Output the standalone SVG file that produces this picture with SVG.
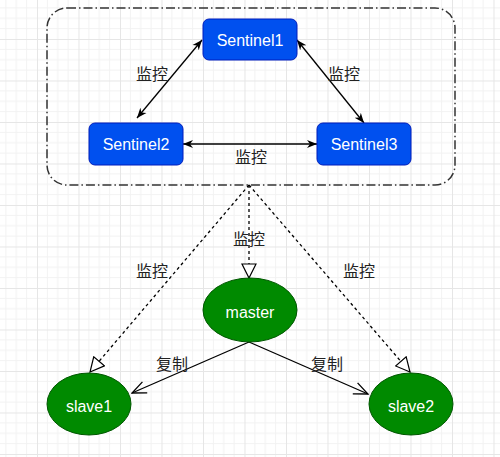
<svg xmlns="http://www.w3.org/2000/svg" width="500" height="457" viewBox="0 0 500 457">
<defs>
<pattern id="grid" patternUnits="userSpaceOnUse" x="-4.5" y="-2.5" width="41.5" height="41.5">
<path d="M10.375 0V41.5M20.75 0V41.5M31.125 0V41.5M0 10.375H41.5M0 20.75H41.5M0 31.125H41.5" stroke="#f2f2f2" stroke-width="1" fill="none"/>
<path d="M0.5 0V41.5M0 0.5H41.5" stroke="#e6e6e6" stroke-width="1" fill="none"/>
</pattern>
<marker id="classic" viewBox="0 0 10 10" refX="10" refY="5" markerWidth="10" markerHeight="10" markerUnits="userSpaceOnUse" orient="auto-start-reverse">
<path d="M0,1 L10,5 L0,9 L3,5 z" fill="#000"/>
</marker>
<marker id="block" viewBox="-1 -1 16 16" refX="14" refY="7" markerWidth="16" markerHeight="16" markerUnits="userSpaceOnUse" orient="auto">
<path d="M0,0 L14,7 L0,14 z" fill="#fff" stroke="#000" stroke-width="1.2"/>
</marker>
<marker id="open" viewBox="-1 -1 16 14" refX="14" refY="6" markerWidth="16" markerHeight="14" markerUnits="userSpaceOnUse" orient="auto">
<path d="M0,0 L14,6 L0,12" fill="none" stroke="#000" stroke-width="1.3"/>
</marker>
</defs>
<style>
.lbl{font-family:"Liberation Sans","Noto Sans CJK SC",sans-serif;font-size:16px;fill:#222;text-anchor:middle;dominant-baseline:central}
.ntxt{font-family:"Liberation Sans",Arial,sans-serif;font-size:16px;fill:#fff;text-anchor:middle;dominant-baseline:central}
.sent{fill:#0050ef;stroke:#001dbc;stroke-width:1}
.redis{fill:#008a00;stroke:#005700;stroke-width:1}
.solid{stroke:#000;stroke-width:1.3;fill:none}
.dot{stroke:#000;stroke-width:1.3;fill:none;stroke-dasharray:3 3}
</style>
<rect width="500" height="457" fill="#fff"/>
<rect width="500" height="457" fill="url(#grid)"/>
<g id="sentinel-group">
<rect x="47" y="8" width="408" height="177" rx="20" fill="none" stroke="#333" stroke-width="1.5" stroke-dasharray="9 3 1.5 3"/>
</g>
<g id="connectors">
<line class="solid" x1="202" y1="40" x2="137" y2="118" marker-start="url(#classic)" marker-end="url(#classic)"/>
<line class="solid" x1="297" y1="40" x2="364" y2="123" marker-start="url(#classic)" marker-end="url(#classic)"/>
<line class="solid" x1="183" y1="144" x2="317" y2="144" marker-start="url(#classic)" marker-end="url(#classic)"/>
<line class="dot" x1="249" y1="185" x2="249" y2="278" marker-end="url(#block)"/>
<line class="dot" x1="249" y1="185" x2="90" y2="372" marker-end="url(#block)"/>
<line class="dot" x1="249" y1="185" x2="410" y2="372" marker-end="url(#block)"/>
<line class="solid" x1="249" y1="342" x2="132" y2="393" marker-end="url(#open)"/>
<line class="solid" x1="249" y1="342" x2="368" y2="394" marker-end="url(#open)"/>
<text class="lbl" x="152" y="74">监控</text>
<text class="lbl" x="344" y="74">监控</text>
<text class="lbl" x="251" y="157">监控</text>
<text class="lbl" x="249" y="239">监控</text>
<text class="lbl" x="152" y="271">监控</text>
<text class="lbl" x="359" y="271">监控</text>
<text class="lbl" x="172" y="364">复制</text>
<text class="lbl" x="327" y="364">复制</text>
</g>
<g id="sentinel1">
<rect class="sent" x="203" y="19" width="94" height="41" rx="6"/>
<text class="ntxt" x="250" y="40">Sentinel1</text>
</g>
<g id="sentinel2">
<rect class="sent" x="89" y="123" width="94" height="42" rx="6"/>
<text class="ntxt" x="136" y="144">Sentinel2</text>
</g>
<g id="sentinel3">
<rect class="sent" x="317" y="123" width="94" height="42" rx="6"/>
<text class="ntxt" x="364" y="144">Sentinel3</text>
</g>
<g id="master">
<ellipse class="redis" cx="250" cy="310" rx="47" ry="32"/>
<text class="ntxt" x="250" y="312">master</text>
</g>
<g id="slave1">
<ellipse class="redis" cx="89" cy="404" rx="42" ry="31"/>
<text class="ntxt" x="89" y="406">slave1</text>
</g>
<g id="slave2">
<ellipse class="redis" cx="411" cy="404" rx="42" ry="31"/>
<text class="ntxt" x="411" y="406">slave2</text>
</g>
</svg>
